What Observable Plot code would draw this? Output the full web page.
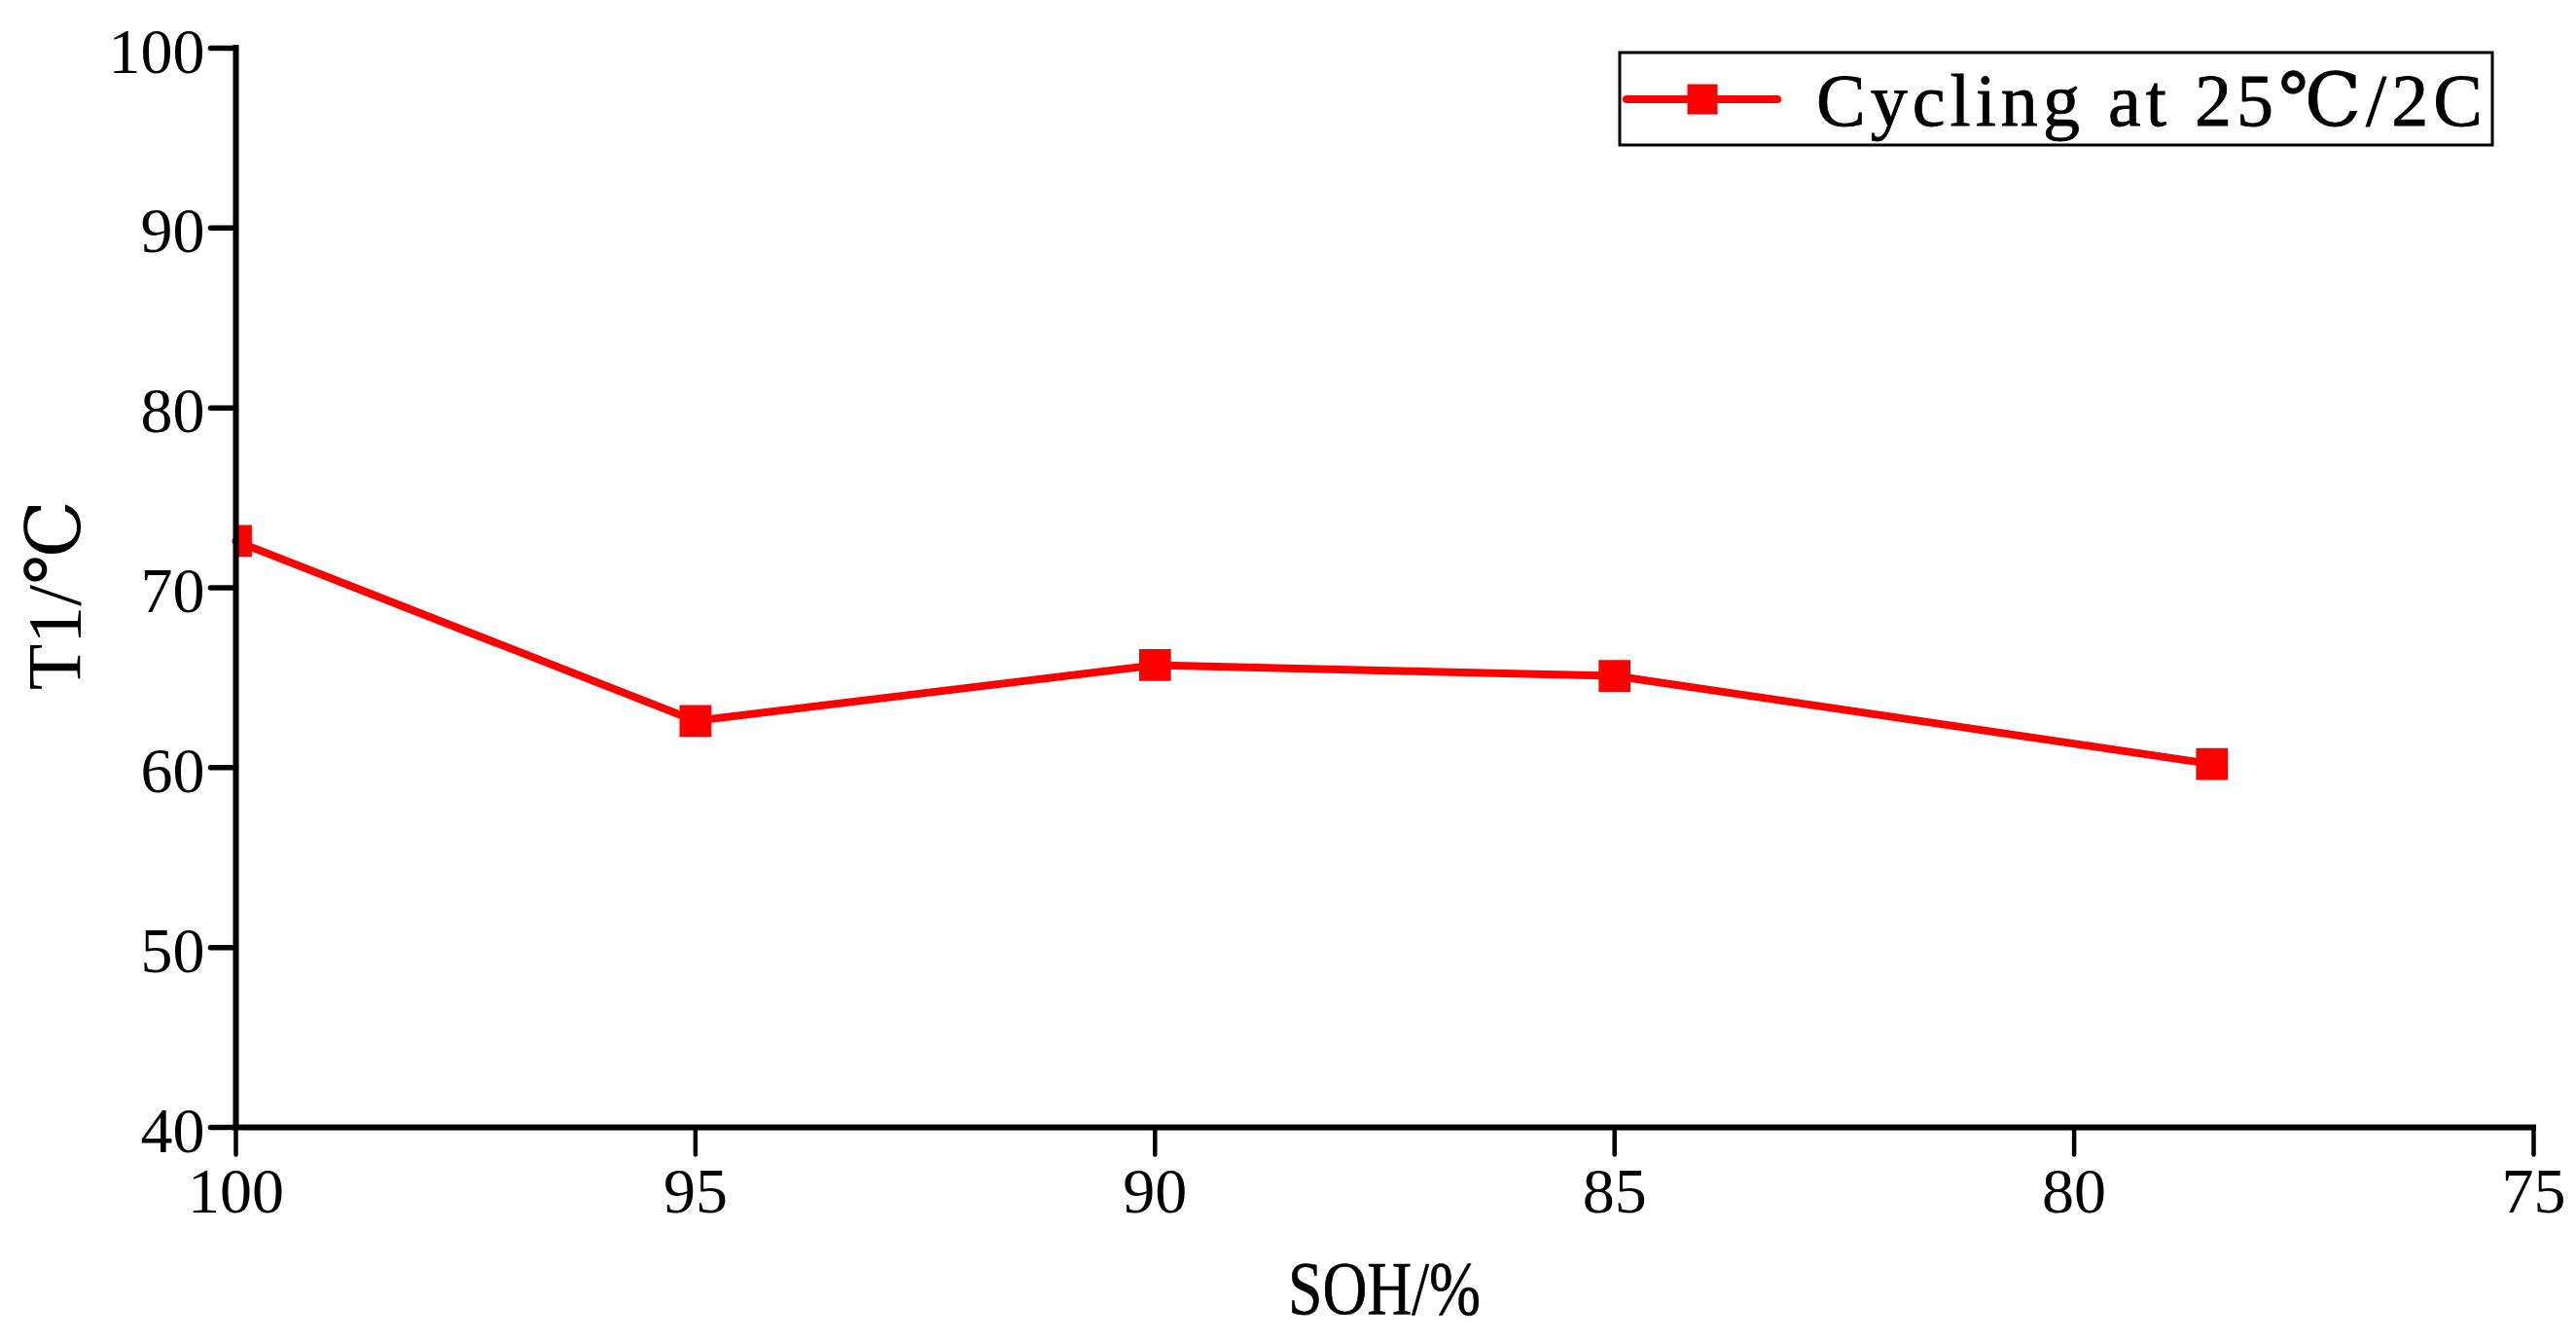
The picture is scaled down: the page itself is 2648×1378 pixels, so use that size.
<!DOCTYPE html>
<html>
<head>
<meta charset="utf-8">
<script src="https://cdn.jsdelivr.net/npm/d3@7"></script>
<script src="https://cdn.jsdelivr.net/npm/@observablehq/plot@0.6"></script>
<style>
  html, body { margin: 0; padding: 0; background: #fff; }
  #chart { width: 2648px; height: 1378px; }
</style>
</head>
<body>
<div id="chart"></div>
<script>
// Surface temperature T1 against state of health during cycling
const soh = [100, 95, 90, 85, 78.5];
const t1 = [72.6, 62.6, 65.7, 65.1, 60.2];
const xTicks = [100, 95, 90, 85, 80, 75];
const yTicks = [40, 50, 60, 70, 80, 90, 100];
const seriesName = "Cycling at 25℃/2C";
const xTitle = "SOH/%";
const yTitle = "T1/℃";

const data = soh.map((s, i) => ({soh: s, t1: t1[i]}));

const W = 2648, H = 1378;
const M = {top: 49, right: 44, bottom: 220, left: 242};
const serif = "'Liberation Serif', 'Times New Roman', 'DejaVu Serif', serif";
const red = "#ff0000";

// a plain stroke from the anchor point, used for inward ticks
const tickShape = {draw(context, l) { context.moveTo(0, 0); context.lineTo(0, l); }};

const plot = Plot.plot({
  width: W,
  height: H,
  marginTop: M.top,
  marginRight: M.right,
  marginBottom: M.bottom,
  marginLeft: M.left,
  style: {background: "#fff", fontFamily: serif, fontSize: "66px", color: "#000", overflow: "visible"},
  x: {domain: [100, 75], label: null},
  y: {domain: [40, 100], label: null},
  marks: [
    Plot.line(data, {x: "soh", y: "t1", stroke: red, strokeWidth: 8}),
    Plot.dot(data, {x: "soh", y: "t1", symbol: "square", r: 18.5, fill: red, stroke: "none", clip: true}),
    // inward-pointing ticks
    Plot.vector(xTicks, {x: d => d, y: 40, length: 28, rotate: 0, anchor: "start", shape: tickShape, stroke: "#000", strokeWidth: 4.5}),
    Plot.vector(yTicks, {x: 100, y: d => d, length: 26, rotate: 90, anchor: "start", shape: tickShape, stroke: "#000", strokeWidth: 5.5}),
    // tick labels
    Plot.axisX({ticks: xTicks, tickSize: 0, tickPadding: 41, label: null, fill: "#000", stroke: "#000", strokeWidth: 1}),
    Plot.axisY({ticks: yTicks, tickSize: 0, tickPadding: 32, dy: 4, label: null, fill: "#000", stroke: "#000", strokeWidth: 1}),
    // axis lines
    Plot.ruleX([100], {stroke: "#000", strokeWidth: 6, strokeLinecap: "square"}),
    Plot.ruleY([40], {stroke: "#000", strokeWidth: 6, strokeLinecap: "square"})
  ]
});

document.getElementById("chart").appendChild(plot);

const svg = d3.select(plot);
const frameRight = W - M.right;
const frameBottom = H - M.bottom;

// axis titles
svg.append("text")
  .attr("x", (M.left + frameRight) / 2)
  .attr("y", frameBottom + 192)
  .attr("text-anchor", "middle")
  .attr("font-family", serif)
  .attr("font-size", 79)
  .attr("textLength", 198)
  .attr("lengthAdjust", "spacingAndGlyphs")
  .attr("fill", "#000")
  .attr("stroke", "#000").attr("stroke-width", 0.6)
  .text(xTitle);

svg.append("text")
  .attr("transform", `translate(82,${(M.top + frameBottom) / 2 + 8}) rotate(-90)`)
  .attr("text-anchor", "middle")
  .attr("font-family", serif)
  .attr("font-size", 78)
  .attr("fill", "#000")
  .text(yTitle);

// legend box, top right inside the frame
const lgW = 897, lgH = 95;
const lgX = frameRight - 42 - lgW, lgY = M.top + 5;
const lg = svg.append("g");
lg.append("rect")
  .attr("x", lgX).attr("y", lgY).attr("width", lgW).attr("height", lgH)
  .attr("fill", "#fff").attr("stroke", "#000").attr("stroke-width", 3);
lg.append("line")
  .attr("x1", lgX + 7).attr("x2", lgX + 162)
  .attr("y1", lgY + 48).attr("y2", lgY + 48)
  .attr("stroke", red).attr("stroke-width", 8).attr("stroke-linecap", "round");
lg.append("rect")
  .attr("x", lgX + 85 - 15.5).attr("y", lgY + 48 - 15.5)
  .attr("width", 31).attr("height", 31).attr("fill", red);
lg.append("text")
  .attr("x", lgX + 202).attr("y", lgY + 75)
  .attr("text-anchor", "start")
  .attr("font-family", serif)
  .attr("font-size", 76)
  .attr("textLength", 685)
  .attr("lengthAdjust", "spacing")
  .attr("fill", "#000")
  .attr("stroke", "#000").attr("stroke-width", 0.8)
  .text(seriesName);
</script>
</body>
</html>
